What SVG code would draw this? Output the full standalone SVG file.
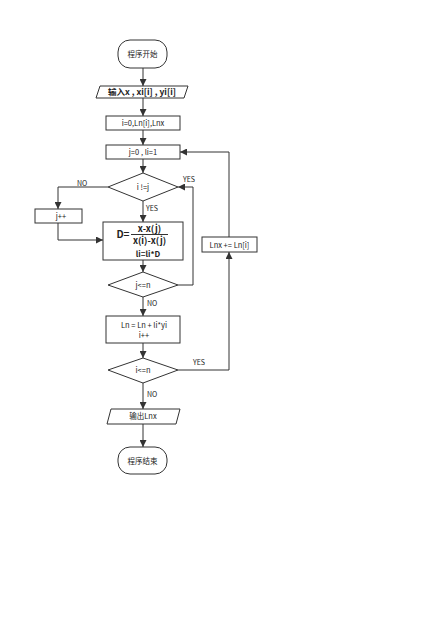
<svg xmlns="http://www.w3.org/2000/svg" width="440" height="620" viewBox="0 0 440 620">
<defs>
<marker id="ah" viewBox="0 0 10 10" refX="10" refY="5" markerWidth="7" markerHeight="7" markerUnits="userSpaceOnUse" orient="auto">
<path d="M0,0 L10,5 L0,10 z" fill="#333"/>
</marker>
<style>
.s{fill:#fff;stroke:#333;stroke-width:1}
.t{font-family:"Noto Sans CJK SC","Noto Sans",sans-serif;font-size:7.5px;fill:#222;text-anchor:middle}
.b{font-weight:bold}
.c{fill:none;stroke:#333;stroke-width:1;marker-end:url(#ah)}
.l{fill:none;stroke:#333;stroke-width:1}
.lb{font-family:"Noto Sans CJK SC","Noto Sans",sans-serif;font-size:7px;fill:#222}
</style>
</defs>
<rect width="440" height="620" fill="#fff"/>
<g id="connectors">
<path class="c" d="M143,68 V86"/>
<path class="c" d="M143,98 V116"/>
<path class="c" d="M143,130 V145"/>
<path class="c" d="M143,159 V173"/>
<path class="l" d="M108,187 H58"/>
<path class="c" d="M58,187 V209"/>
<path class="l" d="M58,223 V240"/>
<path class="c" d="M58,240 H103"/>
<path class="c" d="M143,201 V222"/>
<path class="c" d="M143,260 V272"/>
<path class="l" d="M178,285 H193 V187"/>
<path class="c" d="M193,187 H178"/>
<path class="c" d="M143,297 V316"/>
<path class="c" d="M143,343 V358"/>
<path class="l" d="M178,370 H229"/>
<path class="c" d="M229,370 V252"/>
<path class="l" d="M229,237 V152"/>
<path class="c" d="M229,152 H180"/>
<path class="c" d="M143,383 V409"/>
<path class="c" d="M143,424 V447"/>
<text class="lb" x="77" y="186">NO</text>
<text class="lb" x="146" y="211">YES</text>
<text class="lb" x="183" y="182">YES</text>
<text class="lb" x="147" y="306">NO</text>
<text class="lb" x="193" y="365">YES</text>
<text class="lb" x="147" y="397">NO</text>
</g>
<g id="start">
<rect class="s" x="118" y="40" width="49" height="28" rx="12"/>
<text class="t" x="142.5" y="57">程序开始</text>
</g>
<g id="input">
<polygon class="s" points="100,86 188,86 184,98 96,98"/>
<text class="t b" x="142" y="95" style="font-size:8.5px">输入x , xi[i] , yi[i]</text>
</g>
<g id="init">
<rect class="s" x="106" y="116" width="74" height="14"/>
<text class="t" x="143" y="126">i=0,Ln[i],Lnx</text>
</g>
<g id="initj">
<rect class="s" x="106" y="145" width="74" height="14"/>
<text class="t" x="143" y="155">j=0 , li=1</text>
</g>
<g id="cond1">
<polygon class="s" points="143,173 178,187 143,201 108,187"/>
<text class="t" x="143" y="190">i !=j</text>
</g>
<g id="jinc">
<rect class="s" x="35" y="209" width="47" height="14"/>
<text class="t" x="61" y="219">j++</text>
</g>
<g id="calc">
<rect class="s" x="103" y="222" width="80" height="38"/>
<text class="t b" x="123" y="238" style="font-size:10px">D=</text>
<text class="t b" x="149.5" y="232" style="font-size:9px">x-x(j)</text>
<line x1="131" y1="234.5" x2="168" y2="234.5" stroke="#333" stroke-width="1"/>
<text class="t b" x="149.5" y="244" style="font-size:9px">x(i)-x(j)</text>
<text class="t b" x="148" y="257" style="font-size:8px">li=li*D</text>
</g>
<g id="cond2">
<polygon class="s" points="143,272 178,285 143,297 108,285"/>
<text class="t" x="143" y="288">j&lt;=n</text>
</g>
<g id="update">
<rect class="s" x="106" y="316" width="74" height="27"/>
<text class="t" x="144" y="328">Ln = Ln + li*yi</text>
<text class="t" x="144" y="338">i++</text>
</g>
<g id="cond3">
<polygon class="s" points="143,358 178,370 143,383 108,370"/>
<text class="t" x="143" y="373">i&lt;=n</text>
</g>
<g id="accum">
<rect class="s" x="202" y="237" width="55" height="15"/>
<text class="t" x="229.5" y="247.5">Lnx += Ln[i]</text>
</g>
<g id="output">
<polygon class="s" points="111,409 180,409 176,424 107,424"/>
<text class="t" x="143" y="419">输出Lnx</text>
</g>
<g id="end">
<rect class="s" x="118" y="447" width="49" height="27" rx="12"/>
<text class="t" x="142.5" y="463.5">程序结束</text>
</g>
</svg>
